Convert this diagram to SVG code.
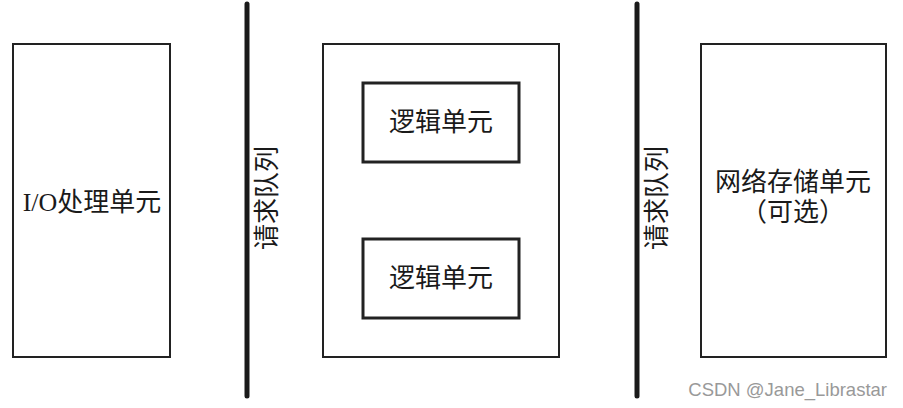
<svg xmlns="http://www.w3.org/2000/svg" width="903" height="408" viewBox="0 0 903 408">
<style>
.box{fill:#fff;stroke:#222;stroke-width:2}
.inner{fill:#fff;stroke:#222;stroke-width:3}
.bar{stroke:#1a1a1a;stroke-width:5;stroke-linecap:round}
.t{font-family:"Liberation Serif","Noto Sans CJK SC",serif;font-size:26px;fill:#1a1a1a;text-anchor:middle;dominant-baseline:central}
.wm{font-family:"Liberation Sans",Arial,sans-serif;font-size:18.5px;fill:#999;text-anchor:end}
</style>
<rect width="903" height="408" fill="#fff"/>
<g id="connectors">
<line class="bar" x1="247" y1="4" x2="247" y2="396"/>
<line class="bar" x1="637" y1="4" x2="637" y2="396"/>
<text class="t" transform="translate(267,198) rotate(-90)">请求队列</text>
<text class="t" transform="translate(657,198) rotate(-90)">请求队列</text>
</g>
<g id="io">
<rect class="box" x="13" y="44" width="157" height="313"/>
<text class="t" x="92" y="202">I/O处理单元</text>
</g>
<g id="logic-container">
<rect class="box" x="323" y="44" width="236" height="313"/>
</g>
<g id="logic1">
<rect class="inner" x="363" y="83" width="156" height="79"/>
<text class="t" x="441" y="122">逻辑单元</text>
</g>
<g id="logic2">
<rect class="inner" x="363" y="239" width="156" height="79"/>
<text class="t" x="441" y="278">逻辑单元</text>
</g>
<g id="storage">
<rect class="box" x="701" y="44" width="185" height="313"/>
<text class="t" x="793" y="182">网络存储单元</text>
<text class="t" x="793" y="212">（可选）</text>
</g>
<text class="wm" x="887" y="396">CSDN @Jane_Librastar</text>
</svg>
